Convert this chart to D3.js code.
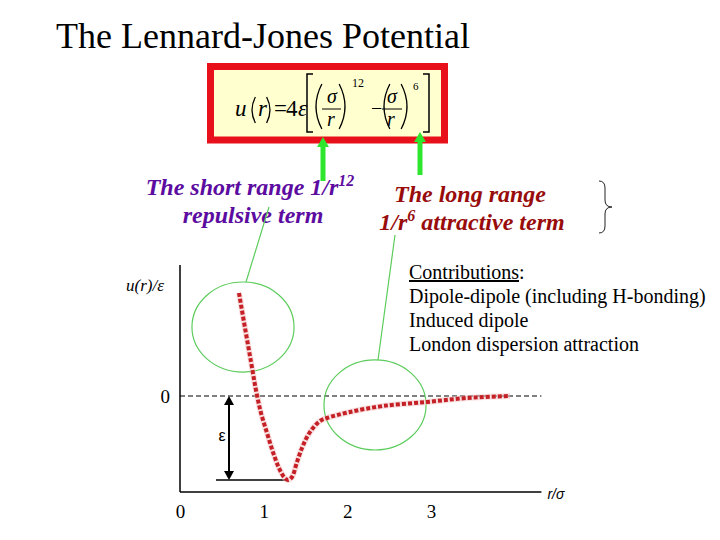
<!DOCTYPE html>
<html>
<head>
<meta charset="utf-8">
<script src="https://cdn.jsdelivr.net/npm/d3@7/dist/d3.min.js"></script>
<style>
  html, body { margin: 0; padding: 0; background: #ffffff; }
  svg { display: block; }
</style>
</head>
<body>
<script>
// ---------- data ----------
const rOverSigma = [0.705, 0.777, 0.849, 0.908, 0.968, 1.040, 1.111, 1.183, 1.243, 1.291, 1.339, 1.398, 1.458, 1.518, 1.590, 1.673, 1.757, 2.032, 2.426, 2.952, 3.430, 3.944];
const uOverEps   = [1.226, 0.81, 0.405, 0.071, -0.202, -0.440, -0.667, -0.857, -0.964, -1.0, -0.964, -0.786, -0.619, -0.488, -0.381, -0.298, -0.262, -0.19, -0.119, -0.071, -0.024, 0.0];
const xTickValues = [0, 1, 2, 3];
const xTickLabels = ["0", "1", "2", "3"];
const yTickValues = [0];
const yTickLabels = ["0"];
const contributions = ["Dipole-dipole (including H-bonding)", "Induced dipole", "London dispersion attraction"];

const W = 720, H = 540;
const svg = d3.select("body").append("svg").attr("width", W).attr("height", H);

const serif = "'Liberation Serif', 'Times New Roman', Times, serif";
const sans = "'Liberation Sans', Arial, sans-serif";

// ---------- scales ----------
const x = d3.scaleLinear().domain([0, 3]).range([180, 431]);
const y = d3.scaleLinear().domain([0, -1]).range([396, 480]);
const xMaxAxis = 4.32, yMaxAxis = 1.56, yMinAxis = -1.143;

// ---------- title ----------
svg.append("text").attr("x", 56).attr("y", 48)
  .attr("font-family", serif).attr("font-size", 36).attr("fill", "#000")
  .text("The Lennard-Jones Potential");

// ---------- formula box ----------
const fb = svg.append("g");
fb.append("rect").attr("x", 210.5).attr("y", 66.5).attr("width", 234).attr("height", 73.5)
  .attr("fill", "#ffffd0").attr("stroke", "#e8101a").attr("stroke-width", 7);
const ft = (tx, ty, s, size, italic) => fb.append("text").attr("x", tx).attr("y", ty)
  .attr("font-family", serif).attr("font-size", size).attr("font-style", italic ? "italic" : "normal")
  .attr("fill", "#000").text(s);
const paren = (px, y0, y1, dir) => {
  const b = (y1 - y0) * 0.13 * dir;
  fb.append("path").attr("d", `M${px + b},${y0} Q${px - b},${(y0 + y1) / 2} ${px + b},${y1}`)
    .attr("fill", "none").attr("stroke", "#000").attr("stroke-width", 1.3);
};
const brack = (px, y0, y1, dir) => {
  fb.append("path").attr("d", `M${px + 6 * dir},${y0} H${px} V${y1} H${px + 6 * dir}`)
    .attr("fill", "none").attr("stroke", "#000").attr("stroke-width", 1.5);
};
ft(235, 116, "u", 23, true);
paren(252, 97, 123, 1);
ft(258, 116, "r", 23, true);
paren(270, 97, 123, -1);
ft(274, 116, "=", 23, false);
ft(286, 116, "4", 23, false);
ft(298, 116, "\u03B5", 23, true);
brack(307, 74, 132, 1);
paren(316, 84, 129, 1);
ft(332, 103, "\u03C3", 20, true).attr("text-anchor", "middle");
fb.append("line").attr("x1", 322).attr("x2", 341).attr("y1", 109).attr("y2", 109).attr("stroke", "#000").attr("stroke-width", 1);
ft(331, 126, "r", 20, true).attr("text-anchor", "middle");
paren(345, 84, 129, -1);
ft(352, 87, "12", 12, false);
ft(371, 115, "\u2212", 20, false);
paren(384, 84, 129, 1);
ft(392, 103, "\u03C3", 20, true).attr("text-anchor", "middle");
fb.append("line").attr("x1", 382).attr("x2", 402).attr("y1", 109).attr("y2", 109).attr("stroke", "#000").attr("stroke-width", 1);
ft(391, 126, "r", 20, true).attr("text-anchor", "middle");
paren(407, 84, 129, -1);
ft(413, 90, "6", 11, false);
brack(429, 74, 132, -1);

// ---------- green arrows ----------
const arrowG = "#2ee62e";
[[323, 181, 137], [420, 175, 132]].forEach(([ax, yb, yt]) => {
  svg.append("line").attr("x1", ax).attr("x2", ax).attr("y1", yb).attr("y2", yt + 8)
    .attr("stroke", arrowG).attr("stroke-width", 5);
  svg.append("path").attr("d", `M${ax - 6},${yt + 10} L${ax},${yt} L${ax + 6},${yt + 10} Z`).attr("fill", arrowG);
});

// ---------- annotation texts ----------
const t1 = svg.append("text").attr("font-family", serif).attr("font-size", 24)
  .attr("font-weight", "bold").attr("font-style", "italic").attr("fill", "#5c0ca0").attr("text-anchor", "middle");
const l1 = t1.append("tspan").attr("x", 250).attr("y", 195).text("The short range 1/r");
l1.append("tspan").attr("font-size", 16).attr("dy", -9).text("12");
t1.append("tspan").attr("x", 253).attr("y", 223).text("repulsive term");

const t2 = svg.append("text").attr("font-family", serif).attr("font-size", 24)
  .attr("font-weight", "bold").attr("font-style", "italic").attr("fill", "#980c0c").attr("text-anchor", "middle");
t2.append("tspan").attr("x", 470).attr("y", 202).text("The long range");
const l2 = t2.append("tspan").attr("x", 472).attr("y", 230).text("1/r");
l2.append("tspan").attr("font-size", 16).attr("dy", -9).text("6");
l2.append("tspan").attr("dy", 9).text(" attractive term");

// brace
svg.append("path")
  .attr("d", "M599,181 Q605,181 605,188 L605,200 Q605,207 612,207 Q605,207 605,214 L605,226 Q605,233 599,233")
  .attr("fill", "none").attr("stroke", "#222").attr("stroke-width", 1);

// contributions
const ct = svg.append("g").attr("font-family", serif).attr("font-size", 20).attr("fill", "#000");
const c0 = ct.append("text").attr("x", 409).attr("y", 279);
c0.append("tspan").attr("text-decoration", "underline").text("Contributions");
c0.append("tspan").text(":");
contributions.forEach((s, i) => ct.append("text").attr("x", 409).attr("y", 303 + i * 24).text(s));

// ---------- axes ----------
svg.append("line").attr("x1", x(0)).attr("x2", x(0)).attr("y1", y(yMaxAxis)).attr("y2", y(yMinAxis))
  .attr("stroke", "#000").attr("stroke-width", 1.5);
svg.append("line").attr("x1", x(0)).attr("x2", x(xMaxAxis)).attr("y1", y(yMinAxis)).attr("y2", y(yMinAxis))
  .attr("stroke", "#000").attr("stroke-width", 1.5);

const xAxis = d3.axisBottom(x).tickValues(xTickValues).tickSize(0).tickPadding(0)
  .tickFormat((d, i) => xTickLabels[i]);
const gx = svg.append("g").attr("transform", `translate(0,${y(yMinAxis) + 12})`).call(xAxis);
gx.select(".domain").remove();
gx.selectAll("text").attr("font-family", serif).attr("font-size", 19).attr("fill", "#000");

const yAxis = d3.axisLeft(y).tickValues(yTickValues).tickSize(0).tickPadding(0)
  .tickFormat((d, i) => yTickLabels[i]);
const gy = svg.append("g").attr("transform", `translate(${x(0) - 10},0)`).call(yAxis);
gy.select(".domain").remove();
gy.selectAll("text").attr("font-family", serif).attr("font-size", 19).attr("fill", "#000");

// zero dashed line
svg.append("line").attr("x1", x(0)).attr("x2", x(xMaxAxis)).attr("y1", y(0)).attr("y2", y(0))
  .attr("stroke", "#000").attr("stroke-width", 1).attr("stroke-dasharray", "5,3");

// axis titles
svg.append("text").attr("x", 126).attr("y", 291).attr("font-family", serif).attr("font-style", "italic")
  .attr("font-size", 17).attr("fill", "#000").text("u(r)/\u03B5");
svg.append("text").attr("x", x(xMaxAxis) + 6).attr("y", 499).attr("font-family", sans).attr("font-style", "italic")
  .attr("font-size", 14).attr("fill", "#000").text("r/\u03C3");

// epsilon marker
const minU = d3.min(uOverEps);
const minX = rOverSigma[uOverEps.indexOf(minU)];
svg.append("line").attr("x1", 216).attr("x2", x(minX)).attr("y1", y(minU)).attr("y2", y(minU))
  .attr("stroke", "#000").attr("stroke-width", 1.3);
svg.append("line").attr("x1", 229).attr("x2", 229).attr("y1", y(0) + 6).attr("y2", y(minU) - 6)
  .attr("stroke", "#000").attr("stroke-width", 2);
svg.append("path").attr("d", `M224,${y(0) + 9} L229,${y(0)} L234,${y(0) + 9} Z`).attr("fill", "#000");
svg.append("path").attr("d", `M224,${y(minU) - 9} L229,${y(minU)} L234,${y(minU) - 9} Z`).attr("fill", "#000");
svg.append("text").attr("x", 222).attr("y", y(-0.53)).attr("font-family", sans).attr("font-size", 16)
  .attr("fill", "#000").attr("text-anchor", "middle").text("\u03B5");

// ---------- green ellipses & leaders ----------
const green = "#5ccc5c";
const ells = [[0.753, 0.821], [2.331, -0.107]];
ells.forEach(([cx, cy]) => {
  svg.append("ellipse").attr("cx", x(cx)).attr("cy", y(cy)).attr("rx", x(0.61) - x(0)).attr("ry", y(-0.536) - y(0))
    .attr("fill", "none").attr("stroke", green).attr("stroke-width", 1.2);
});
svg.append("line").attr("x1", 246).attr("y1", y(0.821) - 45).attr("x2", 269).attr("y2", 207)
  .attr("stroke", green).attr("stroke-width", 1.2);
svg.append("line").attr("x1", 378).attr("y1", y(-0.107) - 45).attr("x2", 395).attr("y2", 235)
  .attr("stroke", green).attr("stroke-width", 1.2);

// ---------- curve ----------
const pts = rOverSigma.map((r, i) => [r, uOverEps[i]]);
const line = d3.line().x(d => x(d[0])).y(d => y(d[1])).curve(d3.curveCatmullRom.alpha(0.5));
svg.append("path").attr("d", line(pts)).attr("fill", "none")
  .attr("stroke", "#f3c4c4").attr("stroke-width", 6).attr("stroke-opacity", 0.5);
svg.append("path").attr("d", line(pts)).attr("fill", "none")
  .attr("stroke", "#c42026").attr("stroke-width", 4).attr("stroke-dasharray", "4,2");
</script>
</body>
</html>
